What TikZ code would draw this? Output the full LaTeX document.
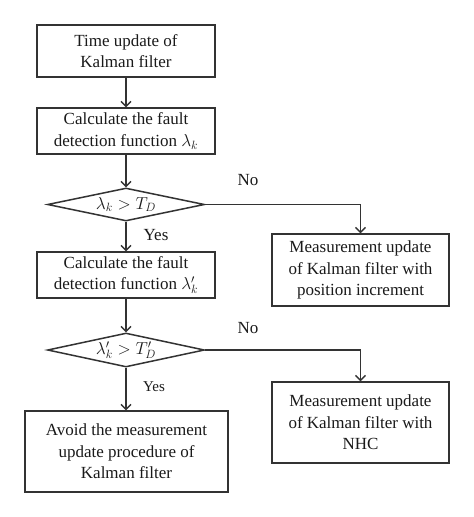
\documentclass[tikz,border=0pt]{standalone}
\usepackage{fontspec}
\setmainfont{Liberation Serif}
\usetikzlibrary{shapes.geometric,arrows.meta}
\definecolor{linec}{HTML}{333333}
\definecolor{textc}{HTML}{1A1A1A}
\tikzset{
  box/.style={draw=linec, line width=1.5pt, rectangle, align=center, inner sep=0pt,
     text=textc, font=\fontsize{17}{21.5}\selectfont},
  decision/.style={draw=linec, line width=1.5pt, diamond, inner sep=0pt, aspect=4.7,
     minimum width=157pt, minimum height=33pt, text=textc, font=\fontsize{17}{21.5}\selectfont},
  conn/.style={draw=linec, line width=1.5pt, -{Straight Barb[length=5pt,width=10pt,line width=1.3pt]}},
  lbl/.style={text=textc, inner sep=0pt, font=\fontsize{17}{20}\selectfont},
  lblsmall/.style={text=textc, inner sep=0pt, font=\fontsize{15}{18}\selectfont}
}
\begin{document}
\begin{tikzpicture}[x=1pt,y=-1pt]
\useasboundingbox[fill=white] (0,0) rectangle (474,517);
\node[box, minimum width=178pt, minimum height=52pt] (b1) at (126,51) {Time update of\\Kalman filter};
\node[box, minimum width=178pt, minimum height=46pt] (b2) at (126,131) {Calculate the fault\\detection function $\lambda_k$};
\node[decision] (d1) at (126,204.5) {$\lambda_k > T_D$};
\node[box, minimum width=177pt, minimum height=72pt] (b3) at (360.5,270) {Measurement update\\of Kalman filter with\\position increment};
\node[box, minimum width=178pt, minimum height=46pt] (b4) at (126,275) {Calculate the fault\\detection function $\lambda_k'$};
\node[decision, minimum height=34pt] (d2) at (126,350) {$\lambda_k' > T_D'$};
\node[box, minimum width=177pt, minimum height=81pt] (b5) at (360.5,422.5) {Measurement update\\of Kalman filter with\\NHC};
\node[box, minimum width=203pt, minimum height=81pt] (b6) at (126.5,451.5) {Avoid the measurement\\update procedure of\\Kalman filter};
\node[lbl] (no1) at (248,180) {No};
\node[lbl] (yes1) at (156,235) {Yes};
\node[lbl] (no2) at (248,328) {No};
\node[lblsmall] (yes2) at (154,387) {Yes};
\draw[conn] (b1.south) -- (b2.north);
\draw[conn] (b2.south) -- (d1.north);
\draw[conn] (d1.east) -| (b3.north);
\draw[conn] (d1.south) -- (b4.north);
\draw[conn] (b4.south) -- (d2.north);
\draw[conn] (d2.east) -| (b5.north);
\draw[conn] (d2.south) -- (d2.south |- b6.north);
\end{tikzpicture}
\end{document}
